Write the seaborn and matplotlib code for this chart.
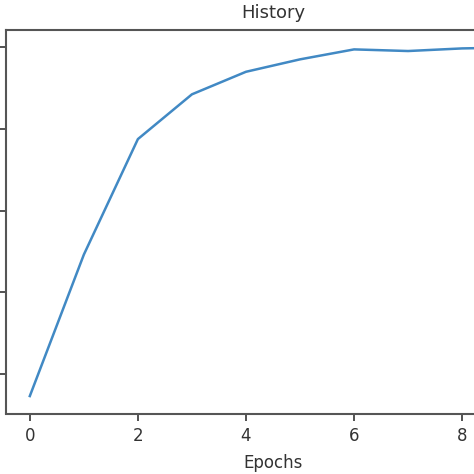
import matplotlib
matplotlib.use("Agg")
import matplotlib.pyplot as plt
import seaborn as sns
import pandas as pd

# training history (y values, labels are cropped out)
epochs = [0, 1, 2, 3, 4, 5, 6, 7, 8, 9]
accuracy = [0.5866, 0.6732, 0.7439, 0.7713, 0.7851, 0.7927, 0.7988, 0.7978, 0.7994, 0.8000]
x_ticks = [0, 2, 4, 6, 8]
y_ticks = [0.60, 0.65, 0.70, 0.75, 0.80]

df = pd.DataFrame({"epoch": epochs, "acc": accuracy})

fig = plt.figure(figsize=(4.74, 4.74), dpi=100)
ax = fig.add_axes([5.5 / 474, 60.5 / 474, 535 / 474, 383.5 / 474])

sns.lineplot(data=df, x="epoch", y="acc", color="#4189c4", lw=1.8, ax=ax)

ax.set_xticks(x_ticks)
ax.set_yticks(y_ticks)
ax.tick_params(labelleft=False, length=5, width=1.2, pad=4.5, labelsize=12, colors="#333333")
for s in ax.spines.values():
    s.set_linewidth(1.5)
    s.set_color("#555555")
ax.set_title("History", fontsize=13, color="#333333", pad=9)
ax.set_xlabel("Epochs", fontsize=12, color="#333333", labelpad=6.5)
ax.set_ylabel("")

fig.savefig("out.png", dpi=100, facecolor="white")
